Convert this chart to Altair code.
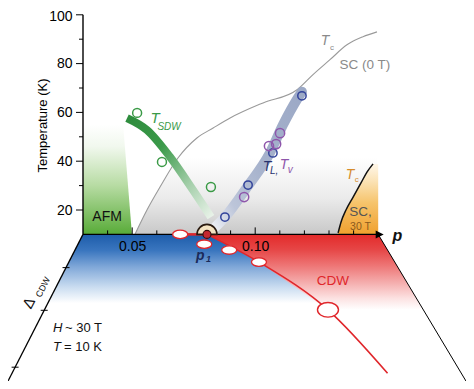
import altair as alt
import pandas as pd

# ---------------- data ----------------
# upper panel : temperature (K) versus hole doping p
tc0_p = [0.0511, 0.0560, 0.0613, 0.0686, 0.0763, 0.0829, 0.0898, 0.1032, 0.1170, 0.1235, 0.1304, 0.1373, 0.1438, 0.1495]
tc0_T = [10.0, 20.0, 29.4, 41.3, 49.5, 53.6, 57.7, 63.9, 69.3, 75.5, 81.6, 87.7, 91.0, 93.0]

tc30_p = [0.1337, 0.1349, 0.1369, 0.1398, 0.1430, 0.1455, 0.1479]
tc30_T = [10.6, 15.1, 20.0, 25.3, 31.1, 35.6, 38.9]

sdw_band_p = [0.0479, 0.0560, 0.0654, 0.0747, 0.0820]
sdw_band_T = [57.7, 52.8, 41.7, 28.2, 17.1]

tl_band_p = [0.0829, 0.0877, 0.0967, 0.1060, 0.1113, 0.1174, 0.1190]
tl_band_T = [12.2, 17.1, 29.4, 43.4, 54.9, 66.0, 68.5]

sdw_pts_p = [0.0520, 0.0621, 0.0820]
sdw_pts_T = [59.8, 39.7, 29.4]
tl_pts_p = [0.0877, 0.0971, 0.1072, 0.1190]
tl_pts_T = [17.1, 30.2, 43.4, 66.8]
tv_pts_p = [0.0955, 0.1056, 0.1085, 0.1101]
tv_pts_T = [25.3, 46.2, 47.0, 51.5]

afm_p = [0.030, 0.0463, 0.0499]
afm_T = [55.0, 55.0, 10.0]

# lower (perspective) plane : doping p versus Delta_CDW (arb. units)
cdw_p = [0.0804, 0.1000, 0.1198, 0.1303]
cdw_d = [0.0, 0.85, 1.99, 3.09]
cdw_small_p = [0.0695, 0.0795, 0.0892, 0.1000]
cdw_small_d = [0.0, 0.32, 0.50, 0.85]
cdw_big_p = [0.1198]
cdw_big_d = [1.99]
p1_value = 0.0804

x_major = [0.05, 0.10]
x_minor = [0.04, 0.06, 0.07, 0.08, 0.09, 0.11, 0.12, 0.13, 0.14]
y_major = [20, 40, 60, 80, 100]
y_minor = [30, 50, 70, 90]
delta_ticks = [1, 2, 3]

# ---------------- layout ----------------
FONT = "Liberation Sans, Arial, sans-serif"
W, H = 458, 373
P0, P1 = 0.03, 0.15          # doping range of the panels
T0, TMAX = 10.0, 100.0       # temperature range of the upper panel
PX_P, PX_K = 2460.0, 2.44    # pixels per unit p / per K
AX_X, AX_Y = 75.0, 226.4     # axis origin inside the plot area
X_DOMAIN = [P0 - AX_X / PX_P, P0 + (W - AX_X) / PX_P]
Y_DOMAIN = [T0 - (H - AX_Y) / PX_K, T0 + AX_Y / PX_K]
PV = P0 + 136 / PX_P         # vanishing point of the perspective plane
HZ = 266 / PX_K              # horizon distance (in K units)
C = 0.111                    # foreshortening per Delta unit
D_END = 3.35

xs = alt.Scale(domain=X_DOMAIN, nice=False, zero=False)
ys = alt.Scale(domain=Y_DOMAIN, nice=False, zero=False)

AXIS_X = alt.Axis(values=x_major, format=".2f", orient="bottom", offset=-(H - AX_Y),
                  domain=False, ticks=False, tickSize=0, grid=False, labelFontSize=14,
                  labelFont=FONT, labelColor="black", labelPadding=5, title=None,
                  labelFlush=False, zindex=2)
AXIS_Y = alt.Axis(values=y_major, orient="left", offset=-AX_X, domain=False, ticks=False,
                  tickSize=0, grid=False, labelFontSize=14, labelFont=FONT, labelColor="black",
                  labelPadding=11, title="Temperature (K)", titleFont=FONT, titleFontSize=13,
                  titleFontWeight="normal", titleColor="black", titleX=-41, titleY=117,
                  titleBaseline="middle", labelFlush=False,
                  labelOffset={"condition": {"test": "datum.value === 100", "value": 1.5}, "value": 0})


def proj(p, d):
    s = 1.0 / (1.0 - C * d)
    return PV + (p - PV) * s, T0 - HZ * (s - 1.0)


def X(f="x"):
    return alt.X(f"{f}:Q", scale=xs, axis=AXIS_X)


def Y(f="y"):
    return alt.Y(f"{f}:Q", scale=ys, axis=AXIS_Y)


def grad(stops, x1=0, y1=0, x2=0, y2=1):
    return alt.LinearGradient(gradient="linear",
                              stops=[alt.GradientStop(offset=o, color=c) for o, c in stops],
                              x1=x1, y1=y1, x2=x2, y2=y2)


def path_ellipse(r):
    k = 0.5523
    return (f"M -1 0 C -1 {-k*r:.4f} {-k:.4f} {-r} 0 {-r} C {k:.4f} {-r} 1 {-k*r:.4f} 1 0 "
            f"C 1 {k*r:.4f} {k:.4f} {r} 0 {r} C {-k:.4f} {r} -1 {k*r:.4f} -1 0 Z")


DOME = "M -1 0 C -1 -0.5523 -0.5523 -1 0 -1 C 0.5523 -1 1 -0.5523 1 0 Z"
TICK_UP = "M 0 -1 L 0 0"
TICK_LEFT = "M -1 0 L 0 0"
TICK_H = "M -1 0 L 1 0"
ARROW = "M -1 -1 L 1 0 L -1 1 Z"

layers = []

# ---- lower plane: blue gradient (whole trapezoid) ----
rows = []
for d in [0.0, 2.1]:
    xl, y = proj(P0, d)
    xr, _ = proj(P1, d)
    rows.append(dict(y=y, xl=xl, xr=xr))
layers.append(alt.Chart(pd.DataFrame(rows)).mark_area(
    orient="horizontal",
    fill=grad([(0, "#1d5caa"), (0.2, "#3a76bf"), (0.4, "#7fa7d8"), (0.65, "#c9dcf0"), (0.85, "#ffffff"), (1, "#ffffff")])
).encode(y=Y("y"), x=X("xl"), x2="xr:Q"))

# ---- lower plane: red CDW region right of the CDW line ----
rows = []
for p, d in zip(cdw_p[:3], cdw_d[:3]):
    xl, y = proj(p, d)
    xr, _ = proj(P1, d)
    rows.append(dict(y=y, xl=xl, xr=xr))
layers.append(alt.Chart(pd.DataFrame(rows)).mark_area(
    orient="horizontal",
    fill=grad([(0, "#e32a2a"), (0.2, "#e64646"), (0.42, "#ee7777"), (0.65, "#f5b0b0"), (0.85, "#fce2e2"), (1, "#ffffff")])
).encode(y=Y("y"), x=X("xl"), x2="xr:Q"))

# ---- gray region under Tc(0 T) ----
layers.append(alt.Chart(pd.DataFrame(dict(x=tc0_p, y=tc0_T))).mark_area(
    fill=grad([(0, "#ffffff"), (0.62, "#ffffff"), (0.82, "#ebebeb"), (1, "#c8c8c8")]),
    interpolate="monotone"
).encode(x=X(), y=Y(), y2=alt.datum(T0)))

# ---- AFM region ----
layers.append(alt.Chart(pd.DataFrame(dict(x=afm_p, y=afm_T))).mark_area(
    fill=grad([(0, "#ffffff"), (0.2, "#f1f8ee"), (0.55, "#b8dca4"), (1, "#58ab38")])
).encode(x=X(), y=Y(), y2=alt.datum(T0)))

# ---- SC (30 T) region ----
layers.append(alt.Chart(pd.DataFrame(dict(x=tc30_p + [P1], y=tc30_T + [tc30_T[-1]]))).mark_area(
    fill=grad([(0, "#fff7ea"), (0.25, "#fbe2b4"), (0.55, "#f6c46c"), (1, "#f0a02e")])
).encode(x=X(), y=Y(), y2=alt.datum(T0)))

# ---- Tc lines ----
layers.append(alt.Chart(pd.DataFrame(dict(x=tc0_p, y=tc0_T))).mark_line(
    color="#9a9a9a", strokeWidth=1.1, interpolate="monotone").encode(x=X(), y=Y()))
layers.append(alt.Chart(pd.DataFrame(dict(x=tc30_p, y=tc30_T))).mark_line(
    color="#111111", strokeWidth=1.5, interpolate="monotone").encode(x=X(), y=Y()))

# ---- thick bands ----
layers.append(alt.Chart(pd.DataFrame(dict(x=sdw_band_p, y=sdw_band_T))).mark_line(
    strokeWidth=8, strokeCap="butt", interpolate="monotone",
    stroke=grad([(0, "#2e8c3d"), (0.35, "#3b9a4a"), (0.7, "#a3cea9"), (1, "#e8f2e8")], 0, 0, 1, 1)
).encode(x=X(), y=Y()))
layers.append(alt.Chart(pd.DataFrame(dict(x=tl_band_p, y=tl_band_T))).mark_line(
    strokeWidth=10, strokeCap="round", interpolate="monotone",
    stroke=grad([(0, "#eef0f5"), (0.2, "#bcc5d9"), (0.5, "#a6b2cc"), (1, "#9ca9c6")], 0, 1, 1, 0)
).encode(x=X(), y=Y()))

# ---- open circles ----
for px_, ty_, col, sz in [(sdw_pts_p, sdw_pts_T, "#3a9a46", 80),
                          (tl_pts_p, tl_pts_T, "#33449a", 70),
                          (tv_pts_p, tv_pts_T, "#8e56ab", 85)]:
    layers.append(alt.Chart(pd.DataFrame(dict(x=px_, y=ty_))).mark_point(
        shape="circle", filled=False, size=sz, strokeWidth=1.5, color=col, opacity=1
    ).encode(x=X(), y=Y()))

# ---- axes lines ----
axis_df = pd.DataFrame(dict(x=[P0], x2=[P1], y=[T0], y2=[TMAX]))
layers.append(alt.Chart(axis_df).mark_rule(color="black", strokeWidth=1.4).encode(
    x=X("x"), x2="x2:Q", y=Y("y")))
layers.append(alt.Chart(axis_df).mark_rule(color="black", strokeWidth=1.4).encode(
    x=X("x"), y=Y("y"), y2="y2:Q"))

# plane edges
for p, w in [(P0, 1.3), (P1, 1.0)]:
    xa, ya = proj(p, 0)
    xb, yb = proj(p, D_END)
    layers.append(alt.Chart(pd.DataFrame([dict(x=xa, y=ya, x2=xb, y2=yb)])).mark_rule(
        color="black", strokeWidth=w).encode(x=X("x"), y=Y("y"), x2="x2:Q", y2="y2:Q"))

# ticks
def tick_layer(xv, yv, shape, size):
    return alt.Chart(pd.DataFrame(dict(x=xv, y=yv))).mark_point(
        shape=shape, size=size, filled=False, color="black", strokeWidth=1, opacity=1
    ).encode(x=X(), y=Y())


layers.append(tick_layer(x_major, [T0] * len(x_major), TICK_UP, 196))
layers.append(tick_layer(x_minor, [T0] * len(x_minor), TICK_UP, 64))
layers.append(tick_layer([P0] * len(y_major), y_major, TICK_LEFT, 196))
layers.append(tick_layer([P0] * len(y_minor), y_minor, TICK_LEFT, 64))
dt = [proj(P0, d) for d in delta_ticks]
layers.append(tick_layer([a for a, b in dt], [b for a, b in dt], TICK_H, 49))

# arrow head of the p axis
layers.append(alt.Chart(pd.DataFrame(dict(x=[P1 + 0.0006], y=[T0]))).mark_point(
    shape=ARROW, size=64, filled=True, color="black", opacity=1).encode(x=X(), y=Y()))

# ---- CDW line ----
cd = [proj(p, d) for p, d in zip(cdw_p, cdw_d)]
layers.append(alt.Chart(pd.DataFrame(dict(x=[cdw_small_p[0], p1_value], y=[T0, T0]))).mark_line(
    color="#e0262b", strokeWidth=2.5).encode(x=X(), y=Y()))
layers.append(alt.Chart(pd.DataFrame(dict(x=[a for a, b in cd], y=[b for a, b in cd]))).mark_line(
    color="#e0262b", strokeWidth=1.6, interpolate="monotone").encode(x=X(), y=Y()))

sm = [proj(p, d) for p, d in zip(cdw_small_p, cdw_small_d)]
layers.append(alt.Chart(pd.DataFrame(dict(x=[a for a, b in sm], y=[b for a, b in sm]))).mark_point(
    shape=path_ellipse(0.56), size=225, filled=True, fill="white", stroke="#e0262b",
    strokeWidth=1.3, opacity=1).encode(x=X(), y=Y()))
bg = [proj(p, d) for p, d in zip(cdw_big_p, cdw_big_d)]
layers.append(alt.Chart(pd.DataFrame(dict(x=[a for a, b in bg], y=[b for a, b in bg]))).mark_point(
    shape=path_ellipse(0.7), size=441, filled=True, fill="white", stroke="#e0262b",
    strokeWidth=1.4, opacity=1).encode(x=X(), y=Y()))

# p1 marker
p1df = pd.DataFrame(dict(x=[p1_value], y=[T0]))
layers.append(alt.Chart(p1df).mark_point(
    shape=DOME, size=400, filled=True, fill="#f4e3c2", stroke="#2a1a10", strokeWidth=1.6,
    opacity=1).encode(x=X(), y=Y()))
layers.append(alt.Chart(p1df).mark_point(
    shape="circle", size=64, filled=True, fill="#c4282f", stroke="#3a0c0c", strokeWidth=1.1,
    opacity=1).encode(x=X(), y=Y()))

# ---- text ----
def txt(rows, **kw):
    d = pd.DataFrame(rows, columns=["x", "y", "t"])
    base = dict(font=FONT, align="center", baseline="middle")
    base.update(kw)
    return alt.Chart(d).mark_text(**base).encode(x=X(), y=Y(), text="t:N")


layers += [
    txt([(0.0593, 57.7, "T")], fontSize=15, fontStyle="italic", color="#3a9a48"),
    txt([(0.0650, 54.0, "SDW")], fontSize=10, fontStyle="italic", color="#3a9a48"),
    txt([(0.0398, 17.1, "AFM")], fontSize=14, color="#111111"),
    txt([(0.1048, 37.6, "T")], fontSize=14, fontStyle="italic", color="#27336e"),
    txt([(0.1077, 36.0, "L,")], fontSize=10, fontStyle="italic", color="#27336e"),
    txt([(0.1117, 38.4, "T")], fontSize=14, fontStyle="italic", color="#8e56ab"),
    txt([(0.1142, 36.3, "v")], fontSize=10, fontStyle="italic", color="#8e56ab"),
    txt([(0.1284, 89.3, "T")], fontSize=14, fontStyle="italic", color="#8a8a8a"),
    txt([(0.1312, 86.3, "c")], fontSize=8, color="#8a8a8a"),
    txt([(0.1446, 79.4, "SC (0 T)")], fontSize=13.5, color="#8a8a8a"),
    txt([(0.1385, 34.3, "T")], fontSize=14, fontStyle="italic", color="#d68c2c"),
    txt([(0.1413, 32.2, "c")], fontSize=8, color="#d68c2c"),
    txt([(0.1428, 19.2, "SC,")], fontSize=13.5, color="#555555"),
    txt([(0.1428, 13.0, "30 T")], fontSize=10.5, color="#8a5a1e"),
    txt([(0.1578, 9.2, "p")], fontSize=16, fontStyle="italic", fontWeight="bold", color="#111111"),
    txt([(0.0777, 1.0, "p")], fontSize=14, fontStyle="italic", fontWeight="bold", color="#1b2a5a"),
    txt([(0.0810, 0.0, "1")], fontSize=9, fontStyle="italic", fontWeight="bold", color="#1b2a5a"),
    txt([(0.1316, -9.1, "CDW")], fontSize=13.5, color="#e0262b"),
    txt([(0.0178, -28.3, "H")], fontSize=13, fontStyle="italic", color="#111111", align="left"),
    txt([(0.0227, -28.3, "~ 30 T")], fontSize=13, color="#111111", align="left"),
    txt([(0.0178, -36.1, "T")], fontSize=13, fontStyle="italic", color="#111111", align="left"),
    txt([(0.0223, -36.1, "= 10 K")], fontSize=13, color="#111111", align="left"),
    txt([(0.0080, -18.1, "\u0394")], fontSize=15, color="#111111", angle=297),
    txt([(0.0137, -11.6, "CDW")], fontSize=9, color="#111111", angle=297),
]

chart = alt.layer(*layers).properties(
    width=W, height=H, autosize=alt.AutoSizeParams(type="none"), padding=0
).configure_view(strokeWidth=0)

chart.save("out.html", embed_options={"renderer": "svg", "actions": False})
